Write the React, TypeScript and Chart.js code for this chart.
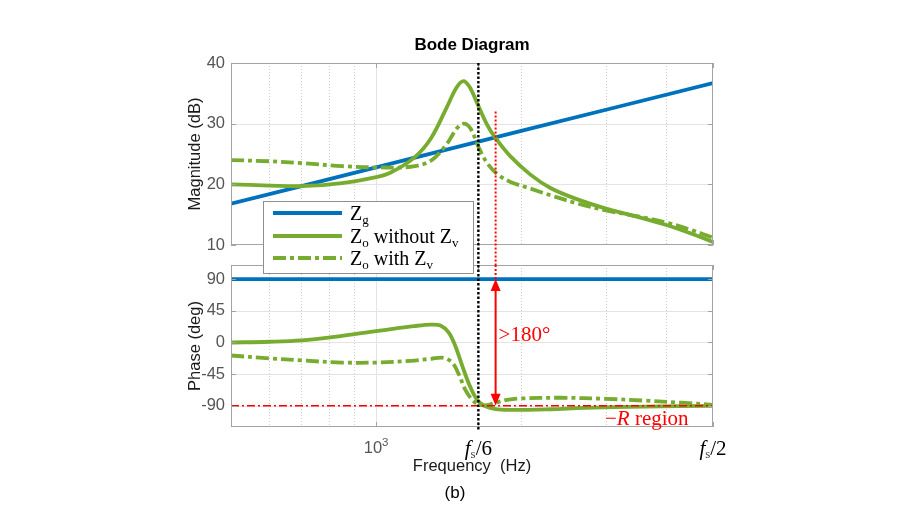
import React, { useEffect, useRef } from "react";
import { Chart, registerables } from "chart.js";
Chart.register(...registerables);

// ---------- data ----------
const FREQ_RANGE = [500, 5000];
const FS_6 = 1630;
const FS_2 = 5000;
const MARK_FREQ = 1770;
const MARK_MAG_TOP = 32;

const MINOR_GRID_FREQS = [600, 700, 800, 900, 2000, 3000, 4000];
const MAJOR_GRID_FREQS = [1000];
const X_TICK_FREQS = [1000, FS_6, FS_2];

const MAG_TICKS = [10, 20, 30, 40];
const MAG_RANGE = [10, 40];
const PHASE_TICKS = [-90, -45, 0, 45, 90];
const PHASE_RANGE = [-120, 110];
const NEG_R_PHASE = -90;
const ARROW_PHASE = [90, -90];

const zgFreq = [500, 1000, 2000, 5000];
const zgMag = [16.8, 22.8, 28.8, 36.7];
const zgPhaseFreq = [500, 5000];
const zgPhase = [90, 90];

const zoMagFreq = [500, 600, 700, 850, 1000, 1070, 1200, 1300, 1400, 1470, 1520, 1570, 1620, 1700, 1770, 1900, 2090, 2300, 2600, 3000, 3500, 4000, 4500, 5000];
const zoMag = [20.0, 19.8, 19.7, 20.2, 21.2, 21.9, 24.4, 27.6, 32.6, 36.0, 37.0, 35.8, 33.4, 29.8, 27.6, 24.6, 21.6, 19.4, 17.6, 16.0, 14.6, 13.3, 11.9, 10.5];

const zovMagFreq = [500, 600, 700, 850, 1000, 1180, 1300, 1400, 1470, 1520, 1570, 1630, 1700, 1790, 1900, 2090, 2300, 2600, 3000, 3500, 4000, 4500, 5000];
const zovMag = [24.0, 23.8, 23.5, 23.0, 22.8, 22.9, 23.9, 26.6, 29.2, 30.0, 29.2, 26.2, 23.5, 21.6, 20.4, 19.3, 18.2, 16.9, 15.7, 14.7, 13.7, 12.5, 11.2];

const zoPhaseFreq = [500, 600, 700, 850, 1000, 1100, 1200, 1300, 1360, 1415, 1460, 1510, 1560, 1610, 1670, 1760, 1900, 2300, 2700, 3600, 5000];
const zoPhase = [0, 1.0, 3.0, 9.5, 16.0, 20.0, 23.3, 25.3, 24.0, 14.0, -5.0, -33.6, -59.6, -78.5, -89.4, -94.2, -95.8, -94.8, -92.8, -91.0, -90.0];

const zovPhaseFreq = [500, 600, 700, 850, 1000, 1180, 1300, 1380, 1440, 1485, 1530, 1580, 1630, 1700, 1780, 1870, 2000, 2400, 3000, 3600, 4300, 5000];
const zovPhase = [-18.5, -22.5, -25.5, -28.5, -28.5, -26.0, -23.2, -21.8, -28.9, -45.4, -66.7, -80.9, -88.0, -89.0, -85.0, -81.5, -79.5, -78.5, -80.0, -82.5, -85.5, -88.5];

// ---------- style ----------
const BLUE = "#0072BD";
const GREEN = "#77AC30";
const RED = "#FF0000";
const BOX = "#a3a3a3";
const SANS = "'Liberation Sans', Arial, sans-serif";
const SERIF = "'Liberation Serif', 'Times New Roman', serif";
const DASHDOT = [13, 4, 4, 4];
const PAD = { left: 191, right: 207, yAxisW: 40, gap: 20 };

type Part = { t: string; font: string; dy?: number; color?: string };

function richWidth(ctx: CanvasRenderingContext2D, parts: Part[]) {
  let w = 0;
  for (const p of parts) {
    ctx.font = p.font;
    w += ctx.measureText(p.t).width;
  }
  return w;
}
function drawRich(ctx: CanvasRenderingContext2D, parts: Part[], x: number, y: number, align: "left" | "center") {
  const w = richWidth(ctx, parts);
  let cx = align === "center" ? x - w / 2 : x;
  ctx.textAlign = "left";
  ctx.textBaseline = "alphabetic";
  for (const p of parts) {
    ctx.font = p.font;
    ctx.fillStyle = p.color || "#000";
    ctx.fillText(p.t, cx, y + (p.dy || 0));
    cx += ctx.measureText(p.t).width;
  }
}
function seg(ctx: CanvasRenderingContext2D, x1: number, y1: number, x2: number, y2: number) {
  ctx.beginPath();
  ctx.moveTo(x1, y1);
  ctx.lineTo(x2, y2);
  ctx.stroke();
}

function drawGrid(chart: any, yTicks: number[]) {
  const { ctx, chartArea: a, scales } = chart;
  const xs = scales.x, ys = scales.y;
  ctx.save();
  ctx.lineWidth = 1;
  ctx.strokeStyle = "#e4e4e4";
  for (const v of yTicks) {
    const py = Math.round(ys.getPixelForValue(v)) + 0.5;
    if (py <= a.top + 1 || py >= a.bottom - 1) continue;
    seg(ctx, a.left, py, a.right, py);
  }
  for (const f of MAJOR_GRID_FREQS) {
    const px = Math.round(xs.getPixelForValue(f)) + 0.5;
    seg(ctx, px, a.top, px, a.bottom);
  }
  ctx.strokeStyle = "#cdcdcd";
  ctx.setLineDash([1, 2]);
  for (const f of MINOR_GRID_FREQS) {
    const px = Math.round(xs.getPixelForValue(f)) + 0.5;
    seg(ctx, px, a.top, px, a.bottom);
  }
  ctx.restore();
}

function drawBox(chart: any, yTicks: number[]) {
  const { ctx, chartArea: a, scales } = chart;
  ctx.save();
  ctx.strokeStyle = BOX;
  ctx.lineWidth = 1;
  ctx.strokeRect(a.left + 0.5, a.top + 0.5, a.right - a.left - 1, a.bottom - a.top - 1);
  for (const v of yTicks) {
    const py = Math.round(scales.y.getPixelForValue(v)) + 0.5;
    seg(ctx, a.left, py, a.left + 5, py);
    seg(ctx, a.right - 5, py, a.right, py);
  }
  for (const f of X_TICK_FREQS) {
    const px = Math.round(scales.x.getPixelForValue(f)) + 0.5;
    seg(ctx, px, a.bottom, px, a.bottom - 5);
    seg(ctx, px, a.top, px, a.top + 5);
  }
  ctx.restore();
}

function drawYTitle(ctx: CanvasRenderingContext2D, text: string, x: number, y: number) {
  ctx.save();
  ctx.translate(x, y);
  ctx.rotate(-Math.PI / 2);
  ctx.font = `16.5px ${SANS}`;
  ctx.fillStyle = "#1a1a1a";
  ctx.textAlign = "center";
  ctx.textBaseline = "middle";
  ctx.fillText(text, 0, 0);
  ctx.restore();
}

function pts(xs: number[], ys: number[]) {
  return xs.map((x, i) => ({ x, y: ys[i] }));
}

function lineDs(label: string, data: any[], color: string, dash: number[] = []) {
  return {
    label,
    data,
    borderColor: color,
    backgroundColor: color,
    borderWidth: 3.8,
    borderDash: dash,
    pointRadius: 0,
    tension: 0.35,
    fill: false,
  };
}

function makeOptions(padTop: number, padBottom: number, range: number[], ticks: number[]) {
  return {
    animation: false as const,
    responsive: false,
    events: [] as any[],
    layout: { padding: { top: padTop, bottom: padBottom, left: PAD.left, right: PAD.right } },
    plugins: { legend: { display: false }, tooltip: { enabled: false }, title: { display: false } },
    scales: {
      x: {
        type: "logarithmic" as const,
        min: FREQ_RANGE[0],
        max: FREQ_RANGE[1],
        ticks: { display: false },
        grid: { display: false, drawTicks: false },
        border: { display: false },
        afterFit: (s: any) => {
          s.height = 0;
        },
      },
      y: {
        type: "linear" as const,
        position: "left" as const,
        min: range[0],
        max: range[1],
        afterBuildTicks: (s: any) => {
          s.ticks = ticks.map((v) => ({ value: v }));
        },
        afterFit: (s: any) => {
          s.width = PAD.yAxisW;
        },
        ticks: {
          padding: 6,
          color: "#555",
          font: { family: SANS, size: 16.5 },
          callback: (v: any) => String(v),
        },
        grid: { display: false, drawTicks: false },
        border: { display: false },
      },
    },
  };
}

const magPlugin = {
  id: "magDecor",
  beforeDatasetsDraw(chart: any) {
    drawGrid(chart, MAG_TICKS);
  },
  afterDraw(chart: any) {
    const { ctx, chartArea: a, scales } = chart;
    drawBox(chart, MAG_TICKS);
    ctx.save();
    const bx = scales.x.getPixelForValue(FS_6);
    ctx.strokeStyle = "#000";
    ctx.lineWidth = 2.4;
    ctx.setLineDash([2.5, 2]);
    seg(ctx, bx, a.top, bx, a.bottom + PAD.gap);
    const rx = scales.x.getPixelForValue(MARK_FREQ);
    ctx.strokeStyle = RED;
    ctx.lineWidth = 2;
    ctx.setLineDash([2, 2]);
    seg(ctx, rx, scales.y.getPixelForValue(MARK_MAG_TOP), rx, a.bottom + PAD.gap);
    ctx.restore();

    ctx.save();
    ctx.font = `bold 17px ${SANS}`;
    ctx.fillStyle = "#000";
    ctx.textAlign = "center";
    ctx.textBaseline = "alphabetic";
    ctx.fillText("Bode Diagram", (a.left + a.right) / 2, 50);
    ctx.restore();

    drawYTitle(ctx, "Magnitude (dB)", 195, (a.top + a.bottom) / 2);

    ctx.save();
    const L = { x: 263.5, y: 201.5, w: 210, h: 72 };
    ctx.fillStyle = "#fff";
    ctx.fillRect(L.x, L.y, L.w, L.h);
    ctx.strokeStyle = "#8f8f8f";
    ctx.lineWidth = 1;
    ctx.strokeRect(L.x, L.y, L.w, L.h);
    const rows = [
      { color: BLUE, dash: [] as number[], y: 213, parts: [
        { t: "Z", font: `20px ${SERIF}` },
        { t: "g", font: `13px ${SERIF}`, dy: 4 },
      ] },
      { color: GREEN, dash: [] as number[], y: 236, parts: [
        { t: "Z", font: `20px ${SERIF}` },
        { t: "o", font: `13px ${SERIF}`, dy: 4 },
        { t: " without Z", font: `20px ${SERIF}` },
        { t: "v", font: `13px ${SERIF}`, dy: 4 },
      ] },
      { color: GREEN, dash: DASHDOT, y: 258, parts: [
        { t: "Z", font: `20px ${SERIF}` },
        { t: "o", font: `13px ${SERIF}`, dy: 4 },
        { t: " with Z", font: `20px ${SERIF}` },
        { t: "v", font: `13px ${SERIF}`, dy: 4 },
      ] },
    ];
    for (const r of rows) {
      ctx.strokeStyle = r.color;
      ctx.lineWidth = 4;
      ctx.setLineDash(r.dash);
      seg(ctx, 273, r.y, 342, r.y);
      ctx.setLineDash([]);
      drawRich(ctx, r.parts, 350, r.y + 7, "left");
    }
    ctx.restore();
  },
};

const phasePlugin = {
  id: "phaseDecor",
  beforeDatasetsDraw(chart: any) {
    drawGrid(chart, PHASE_TICKS);
  },
  afterDraw(chart: any) {
    const { ctx, chartArea: a, scales } = chart;
    const xs = scales.x, ys = scales.y;
    ctx.save();
    const ry = ys.getPixelForValue(NEG_R_PHASE);
    ctx.strokeStyle = RED;
    ctx.lineWidth = 1.5;
    ctx.setLineDash([8, 3, 2, 3]);
    seg(ctx, a.left, ry, a.right, ry);
    ctx.restore();

    drawBox(chart, PHASE_TICKS);

    ctx.save();
    const bx = xs.getPixelForValue(FS_6);
    ctx.strokeStyle = "#000";
    ctx.lineWidth = 2.4;
    ctx.setLineDash([2.5, 2]);
    seg(ctx, bx, a.top, bx, a.bottom + 3);

    const rx = xs.getPixelForValue(MARK_FREQ);
    const yTop = ys.getPixelForValue(ARROW_PHASE[0]);
    const yBot = ys.getPixelForValue(ARROW_PHASE[1]);
    ctx.strokeStyle = RED;
    ctx.lineWidth = 2;
    ctx.setLineDash([2, 2]);
    seg(ctx, rx, a.top, rx, yTop);
    ctx.setLineDash([]);
    seg(ctx, rx, yTop + 8, rx, yBot - 8);
    ctx.fillStyle = RED;
    ctx.beginPath();
    ctx.moveTo(rx, yTop);
    ctx.lineTo(rx - 5, yTop + 12);
    ctx.lineTo(rx + 5, yTop + 12);
    ctx.closePath();
    ctx.fill();
    ctx.beginPath();
    ctx.moveTo(rx, yBot);
    ctx.lineTo(rx - 5, yBot - 12);
    ctx.lineTo(rx + 5, yBot - 12);
    ctx.closePath();
    ctx.fill();
    ctx.restore();

    ctx.save();
    drawRich(ctx, [{ t: ">180°", font: `21px ${SERIF}`, color: RED }], rx + 3, 341, "left");
    drawRich(
      ctx,
      [
        { t: "\u2212", font: `21px ${SERIF}`, color: RED },
        { t: "R", font: `italic 21px ${SERIF}`, color: RED },
        { t: " region", font: `21px ${SERIF}`, color: RED },
      ],
      605,
      425,
      "left"
    );

    const tickLabels: Part[][] = [
      [
        { t: "10", font: `16.5px ${SANS}`, color: "#555" },
        { t: "3", font: `11.5px ${SANS}`, color: "#555", dy: -7 },
      ],
      [
        { t: "f", font: `italic 21px ${SERIF}` },
        { t: "s", font: `13px ${SERIF}`, dy: 3, color: "#444" },
        { t: "/6", font: `21px ${SERIF}` },
      ],
      [
        { t: "f", font: `italic 21px ${SERIF}` },
        { t: "s", font: `13px ${SERIF}`, dy: 3, color: "#444" },
        { t: "/2", font: `21px ${SERIF}` },
      ],
    ];
    X_TICK_FREQS.forEach((f, i) => {
      drawRich(ctx, tickLabels[i], xs.getPixelForValue(f), i === 0 ? 453 : 455, "center");
    });

    ctx.font = `16.5px ${SANS}`;
    ctx.fillStyle = "#1a1a1a";
    ctx.textAlign = "center";
    ctx.textBaseline = "alphabetic";
    ctx.fillText("Frequency  (Hz)", (a.left + a.right) / 2, 471);
    ctx.font = `17px ${SANS}`;
    ctx.fillStyle = "#000";
    ctx.fillText("(b)", 455, 498);
    ctx.restore();

    drawYTitle(ctx, "Phase (deg)", 195, (a.top + a.bottom) / 2);
  },
};

export default function App() {
  const magRef = useRef<HTMLCanvasElement>(null);
  const phaseRef = useRef<HTMLCanvasElement>(null);

  useEffect(() => {
    const phaseChart = new Chart(phaseRef.current as HTMLCanvasElement, {
      type: "line",
      data: {
        datasets: [
          lineDs("Zo without Zv", pts(zoPhaseFreq, zoPhase), GREEN),
          lineDs("Zo with Zv", pts(zovPhaseFreq, zovPhase), GREEN, DASHDOT),
          lineDs("Zg", pts(zgPhaseFreq, zgPhase), BLUE),
        ],
      },
      options: makeOptions(265, 91, PHASE_RANGE, PHASE_TICKS) as any,
      plugins: [phasePlugin],
    });
    const magChart = new Chart(magRef.current as HTMLCanvasElement, {
      type: "line",
      data: {
        datasets: [
          lineDs("Zo without Zv", pts(zoMagFreq, zoMag), GREEN),
          lineDs("Zo with Zv", pts(zovMagFreq, zovMag), GREEN, DASHDOT),
          lineDs("Zg", pts(zgFreq, zgMag), BLUE),
        ],
      },
      options: makeOptions(63, 273, MAG_RANGE, MAG_TICKS) as any,
      plugins: [magPlugin],
    });
    return () => {
      magChart.destroy();
      phaseChart.destroy();
    };
  }, []);

  return (
    <div style={{ position: "absolute", left: 0, top: 0, width: 920, height: 518, background: "#fff" }}>
      <canvas
        ref={phaseRef}
        width={920}
        height={518}
        style={{ position: "absolute", left: 0, top: 0, zIndex: 1 }}
      />
      <canvas
        ref={magRef}
        width={920}
        height={518}
        style={{ position: "absolute", left: 0, top: 0, zIndex: 2 }}
      />
    </div>
  );
}
